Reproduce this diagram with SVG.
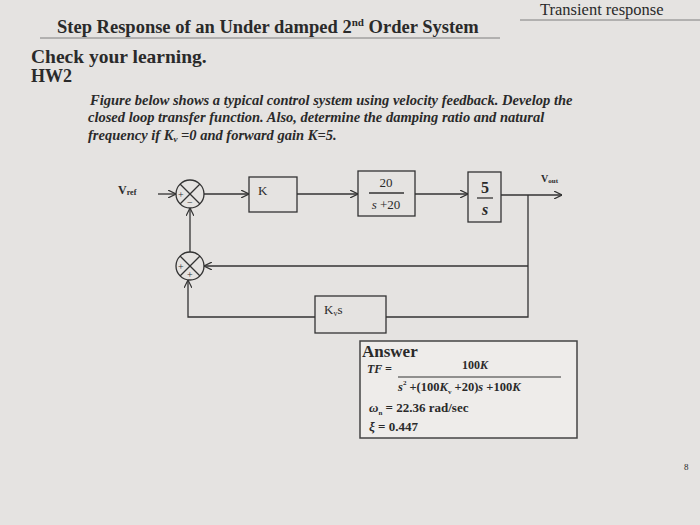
<svg xmlns="http://www.w3.org/2000/svg" width="700" height="525" viewBox="0 0 700 525">
<defs>
<marker id="a" viewBox="0 0 10 10" refX="10" refY="5" markerWidth="8" markerHeight="8" orient="auto" markerUnits="userSpaceOnUse"><path d="M0,0 L10,5 L0,10" fill="none" stroke="#333" stroke-width="1.5"/></marker>
</defs>
<style>
.s{font-family:"Liberation Serif",serif;fill:#2a2a2a}
.b{fill:none;stroke:#333;stroke-width:1.3}
.l{fill:none;stroke:#333;stroke-width:1.3}
</style>
<rect width="700" height="525" fill="#e5e3e1"/>
<text class="s" x="540" y="15" font-size="16.5">Transient response</text>
<line x1="520" y1="20" x2="700" y2="20" stroke="#666" stroke-width="0.8"/>
<text class="s" x="57" y="33" font-size="18.5" font-weight="bold">Step Response of an Under damped 2<tspan font-size="11" dy="-7">nd</tspan><tspan dy="7"> Order System</tspan></text>
<line x1="40" y1="38" x2="500" y2="38" stroke="#666" stroke-width="0.8"/>
<text class="s" x="31" y="63" font-size="19.5" font-weight="bold">Check your learning.</text>
<text class="s" x="31" y="82" font-size="18" font-weight="bold">HW2</text>
<g class="s" font-size="14.5" font-style="italic" font-weight="bold">
<text x="90" y="105">Figure below shows a typical control system using velocity feedback. Develop the</text>
<text x="88" y="122">closed loop transfer function. Also, determine the damping ratio and natural</text>
<text x="88" y="140">frequency if K<tspan font-size="9" dy="2">v</tspan><tspan dy="-2"> =0 and forward gain K=5.</tspan></text>
</g>
<g id="connectors">
<line class="l" x1="158" y1="194" x2="176" y2="194" marker-end="url(#a)"/>
<line class="l" x1="204" y1="194" x2="249" y2="194" marker-end="url(#a)"/>
<line class="l" x1="297" y1="194" x2="358" y2="194" marker-end="url(#a)"/>
<line class="l" x1="415" y1="194" x2="468" y2="194" marker-end="url(#a)"/>
<line class="l" x1="501" y1="195" x2="562" y2="195" marker-end="url(#a)"/>
<polyline class="l" points="528,195 528,317 386,317"/>
<line class="l" x1="528" y1="266" x2="204" y2="266" marker-end="url(#a)"/>
<polyline class="l" points="315,317 188,317 188,280" marker-end="url(#a)"/>
<line class="l" x1="190" y1="252" x2="190" y2="208" marker-end="url(#a)"/>
</g>
<text class="s" x="118" y="194" font-size="12" font-weight="bold">V<tspan font-size="8" dy="1">ref</tspan></text>
<text class="s" x="541" y="182" font-size="10" font-weight="bold">V<tspan font-size="7" dy="1">out</tspan></text>
<g id="sum1"><circle class="b" cx="190" cy="194" r="14"/><line class="l" x1="180" y1="184" x2="200" y2="204"/><line class="l" x1="200" y1="184" x2="180" y2="204"/><text class="s" x="178" y="198" font-size="10">+</text><text class="s" x="187" y="206" font-size="10">−</text></g>
<g id="sum2"><circle class="b" cx="190" cy="266" r="14"/><line class="l" x1="180" y1="256" x2="200" y2="276"/><line class="l" x1="200" y1="256" x2="180" y2="276"/><text class="s" x="178" y="270" font-size="10">+</text><text class="s" x="187" y="278" font-size="10">+</text></g>
<g id="K"><rect class="b" x="249" y="177" width="48" height="35"/><text class="s" x="258" y="195" font-size="13">K</text></g>
<g id="G1"><rect class="b" x="358" y="171" width="57" height="45"/><text class="s" x="386" y="187" font-size="13" text-anchor="middle">20</text><line class="l" x1="369" y1="193" x2="404" y2="193"/><text class="s" x="386" y="209" font-size="13" text-anchor="middle"><tspan font-style="italic">s</tspan> +20</text></g>
<g id="G2"><rect class="b" x="468" y="172" width="33" height="50"/><text class="s" x="485" y="193" font-size="16" font-weight="bold" text-anchor="middle">5</text><line class="l" x1="477" y1="198" x2="493" y2="198"/><text class="s" x="485" y="215" font-size="16" font-weight="bold" font-style="italic" text-anchor="middle">s</text></g>
<g id="Kv"><rect class="b" x="315" y="296" width="71" height="37"/><text class="s" x="324" y="314" font-size="13">K<tspan font-size="8" dy="2">v</tspan><tspan dy="-2">s</tspan></text></g>
<g id="answer">
<rect x="360" y="341" width="217" height="97" fill="#eeecea" stroke="#444" stroke-width="1.5"/>
<text class="s" x="362" y="357" font-size="17" font-weight="bold">Answer</text>
<text class="s" x="367" y="373" font-size="12" font-style="italic" font-weight="bold">TF =</text>
<text class="s" x="462" y="369" font-size="12" font-weight="bold">100<tspan font-style="italic">K</tspan></text>
<line x1="398" y1="377" x2="561" y2="377" stroke="#333" stroke-width="1"/>
<text class="s" x="398" y="391" font-size="12.5" font-weight="bold"><tspan font-style="italic">s</tspan><tspan font-size="7" dy="-6">2</tspan><tspan dy="6"> +(100</tspan><tspan font-style="italic">K</tspan><tspan font-size="7" dy="3">v</tspan><tspan dy="-3"> +20)</tspan><tspan font-style="italic">s</tspan> +100<tspan font-style="italic">K</tspan></text>
<text class="s" x="369" y="412" font-size="13" font-weight="bold"><tspan font-style="italic">ω</tspan><tspan font-size="7" dy="3">n</tspan><tspan dy="-3"> =  22.36 rad/sec</tspan></text>
<text class="s" x="369" y="431" font-size="13" font-weight="bold"><tspan font-style="italic">ξ</tspan> =  0.447</text>
</g>
<text class="s" x="684" y="470" font-size="9">8</text>
</svg>
